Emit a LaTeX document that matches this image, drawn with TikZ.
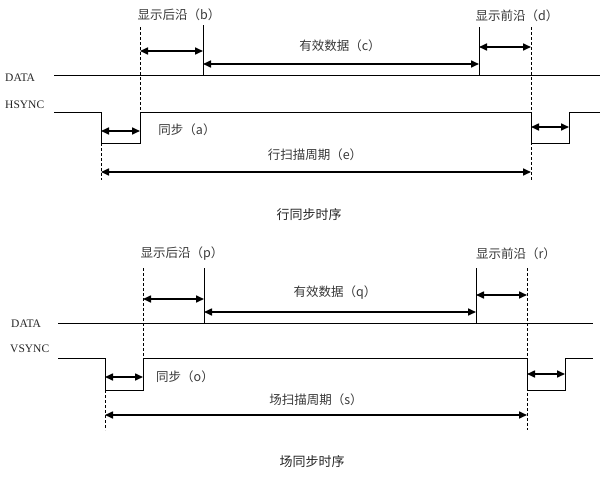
\documentclass[tikz,border=0pt]{standalone}
\usepackage{fontspec}
\setmainfont{Liberation Serif}
\newfontfamily\cjk{Noto Sans CJK SC}
\usetikzlibrary{arrows.meta}
\begin{document}
\begin{tikzpicture}[x=1pt,y=-1pt,
  sig/.style={line width=0.9pt},
  guide/.style={line width=0.8pt, dash pattern=on 3pt off 2pt},
  dimarrow/.style={{Triangle[length=8pt,width=7pt]}-{Triangle[length=8pt,width=7pt]}, line width=1.6pt},
  lbl/.style={font=\cjk\fontsize{12.5}{13}\selectfont, text=black!78, inner sep=0pt},
  ttl/.style={font=\cjk\fontsize{13}{14}\selectfont, text=black!85, inner sep=0pt},
  signame/.style={font=\fontsize{11.5}{12}\selectfont, text=black!85, anchor=west, inner sep=0pt}]
\useasboundingbox[fill=white] (0,0) rectangle (600,477);

% ================= top: horizontal sync =================
\node[signame] (tdata) at (5,78) {DATA};
\node[signame] (hsync) at (5,105) {HSYNC};

\coordinate (td0) at (54,75);  \coordinate (td1) at (600,75);
\coordinate (tb) at (203,75);  \coordinate (tbtop) at (203,25);
\coordinate (tf) at (479,75);  \coordinate (tftop) at (479,27);
\draw[sig] (td0) -- (td1);
\draw[sig] (tb) -- (tbtop);
\draw[sig] (tf) -- (tftop);

\coordinate (th0) at (54,112);
\coordinate (ta1) at (101,112); \coordinate (ta2) at (101,143);
\coordinate (ta3) at (140,143); \coordinate (ta4) at (140,112);
\coordinate (ta5) at (531,112); \coordinate (ta6) at (531,143);
\coordinate (ta7) at (569,143); \coordinate (ta8) at (569,112);
\coordinate (th1) at (600,112);
\draw[sig] (th0) -- (ta1) -- (ta2) -- (ta3) -- (ta4) -- (ta5) -- (ta6) -- (ta7) -- (ta8) -- (th1);

\coordinate (tg1top) at (140,27);
\coordinate (tg2bot) at (101,180);
\coordinate (tg3top) at (531,27); \coordinate (tg3bot) at (531,180);
\draw[guide] (tg1top) -- (ta4);
\draw[guide] (ta2) -- (tg2bot);
\draw[guide] (tg3top) -- (tg3bot);

\coordinate (tbA) at (140,51); \coordinate (tbB) at (203,51);
\coordinate (tcA) at (203,64); \coordinate (tcB) at (479,64);
\coordinate (tdA) at (479,47); \coordinate (tdB) at (531,47);
\coordinate (taA) at (101,131); \coordinate (taB) at (140,131);
\coordinate (tsA) at (531,127); \coordinate (tsB) at (569,127);
\coordinate (teA) at (101,172); \coordinate (teB) at (531,172);
\draw[dimarrow] (tbA) -- (tbB);
\draw[dimarrow] (tcA) -- (tcB);
\draw[dimarrow] (tdA) -- (tdB);
\draw[dimarrow] (taA) -- (taB);
\draw[dimarrow] (tsA) -- (tsB);
\draw[dimarrow] (teA) -- (teB);

\node[lbl] (lb) at (179,15) {显示后沿（b）};
\node[lbl] (lc) at (340,46) {有效数据（c）};
\node[lbl] (ld) at (517,16) {显示前沿（d）};
\node[lbl] (la) at (187,130) {同步（a）};
\node[lbl] (le) at (315,155) {行扫描周期（e）};
\node[ttl] (ttop) at (309,215) {行同步时序};

% ================= bottom: vertical sync =================
\node[signame] (bdata) at (11,324) {DATA};
\node[signame] (vsync) at (10,349) {VSYNC};

\coordinate (bd0) at (58,323);  \coordinate (bd1) at (593,323);
\coordinate (bb) at (204,323);  \coordinate (bbtop) at (204,268);
\coordinate (bf) at (476,323);  \coordinate (bftop) at (476,268);
\draw[sig] (bd0) -- (bd1);
\draw[sig] (bb) -- (bbtop);
\draw[sig] (bf) -- (bftop);

\coordinate (bv0) at (58,358);
\coordinate (bo1) at (105,358); \coordinate (bo2) at (105,390);
\coordinate (bo3) at (143,390); \coordinate (bo4) at (143,358);
\coordinate (bo5) at (527,358); \coordinate (bo6) at (527,390);
\coordinate (bo7) at (565,390); \coordinate (bo8) at (565,358);
\coordinate (bv1) at (593,358);
\draw[sig] (bv0) -- (bo1) -- (bo2) -- (bo3) -- (bo4) -- (bo5) -- (bo6) -- (bo7) -- (bo8) -- (bv1);

\coordinate (bg1top) at (143,268);
\coordinate (bg2bot) at (105,430);
\coordinate (bg3top) at (527,268); \coordinate (bg3bot) at (527,430);
\draw[guide] (bg1top) -- (bo4);
\draw[guide] (bo2) -- (bg2bot);
\draw[guide] (bg3top) -- (bg3bot);

\coordinate (bpA) at (143,299); \coordinate (bpB) at (204,299);
\coordinate (bqA) at (204,312); \coordinate (bqB) at (476,312);
\coordinate (brA) at (476,295); \coordinate (brB) at (527,295);
\coordinate (boA) at (105,377); \coordinate (boB) at (143,377);
\coordinate (bsA) at (527,374); \coordinate (bsB) at (565,374);
\coordinate (bzA) at (105,415); \coordinate (bzB) at (527,415);
\draw[dimarrow] (bpA) -- (bpB);
\draw[dimarrow] (bqA) -- (bqB);
\draw[dimarrow] (brA) -- (brB);
\draw[dimarrow] (boA) -- (boB);
\draw[dimarrow] (bsA) -- (bsB);
\draw[dimarrow] (bzA) -- (bzB);

\node[lbl] (lp) at (182,254) {显示后沿（p）};
\node[lbl] (lq) at (335,293) {有效数据（q）};
\node[lbl] (lr) at (516,254) {显示前沿（r）};
\node[lbl] (lo) at (185,377) {同步（o）};
\node[lbl] (ls) at (316,400) {场扫描周期（s）};
\node[ttl] (tbot) at (312,462) {场同步时序};
\end{tikzpicture}
\end{document}
